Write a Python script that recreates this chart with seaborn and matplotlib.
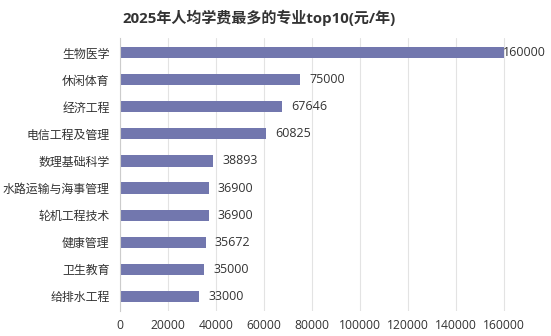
import matplotlib
matplotlib.use("Agg")
import matplotlib.pyplot as plt
import seaborn as sns
import pandas as pd

categories = ["生物医学", "休闲体育", "经济工程", "电信工程及管理", "数理基础科学",
              "水路运输与海事管理", "轮机工程技术", "健康管理", "卫生教育", "给排水工程"]
values = [160000, 75000, 67646, 60825, 38893, 36900, 36900, 35672, 35000, 33000]
xticks = [0, 20000, 40000, 60000, 80000, 100000, 120000, 140000, 160000]
title = "2025年人均学费最多的专业top10(元/年)"

sns.set_theme(style="white")
plt.rcParams['font.family'] = ['Open Sans', 'Noto Sans CJK SC', 'DejaVu Sans']

df = pd.DataFrame({"cat": categories, "val": values})

fig = plt.figure(figsize=(5.51, 3.36), dpi=100)
ax = fig.add_axes([120/551, 1 - 311/336, (530-120)/551, (311-38)/336])
sns.barplot(data=df, y="cat", x="val", color="#7277ae", width=0.41, ax=ax,
            saturation=1, orient="h", linewidth=0)
ax.set_xlim(0, 160000 * 410 / 384)
ax.set_ylim(9.55, -0.55)
ax.set_xticks(xticks)
ax.set_xticklabels([str(t) for t in xticks], fontsize=8.7, color="#333333")
ax.tick_params(axis="y", labelsize=8.6, labelcolor="#333333", length=0, pad=7.5)
ax.tick_params(axis="x", length=0, pad=6)
for lab in ax.get_yticklabels():
    lab.set_family(['Noto Sans CJK SC', 'DejaVu Sans'])
ax.set_xlabel("")
ax.set_ylabel("")
ax.grid(axis="x", color="#e3e3e3", linewidth=0.8)
ax.set_axisbelow(True)
for s in ["top", "right", "bottom"]:
    ax.spines[s].set_visible(False)
ax.spines["left"].set_color("#cccccc")
ax.spines["left"].set_linewidth(0.8)

vmax = max(values)
for i, v in enumerate(values):
    off = -1 if v == vmax else 6.5
    ax.annotate(str(v), (v, i), xytext=(off, 0), textcoords="offset points",
                va="center", ha="left", fontsize=9, color="#333333")

fig.text(0.5 * (122 + 397) / 551, 1 - 18/336, title, ha="center", va="center",
         fontsize=10.8, fontweight="bold", color="#333333")

fig.savefig("out.png", dpi=100)
